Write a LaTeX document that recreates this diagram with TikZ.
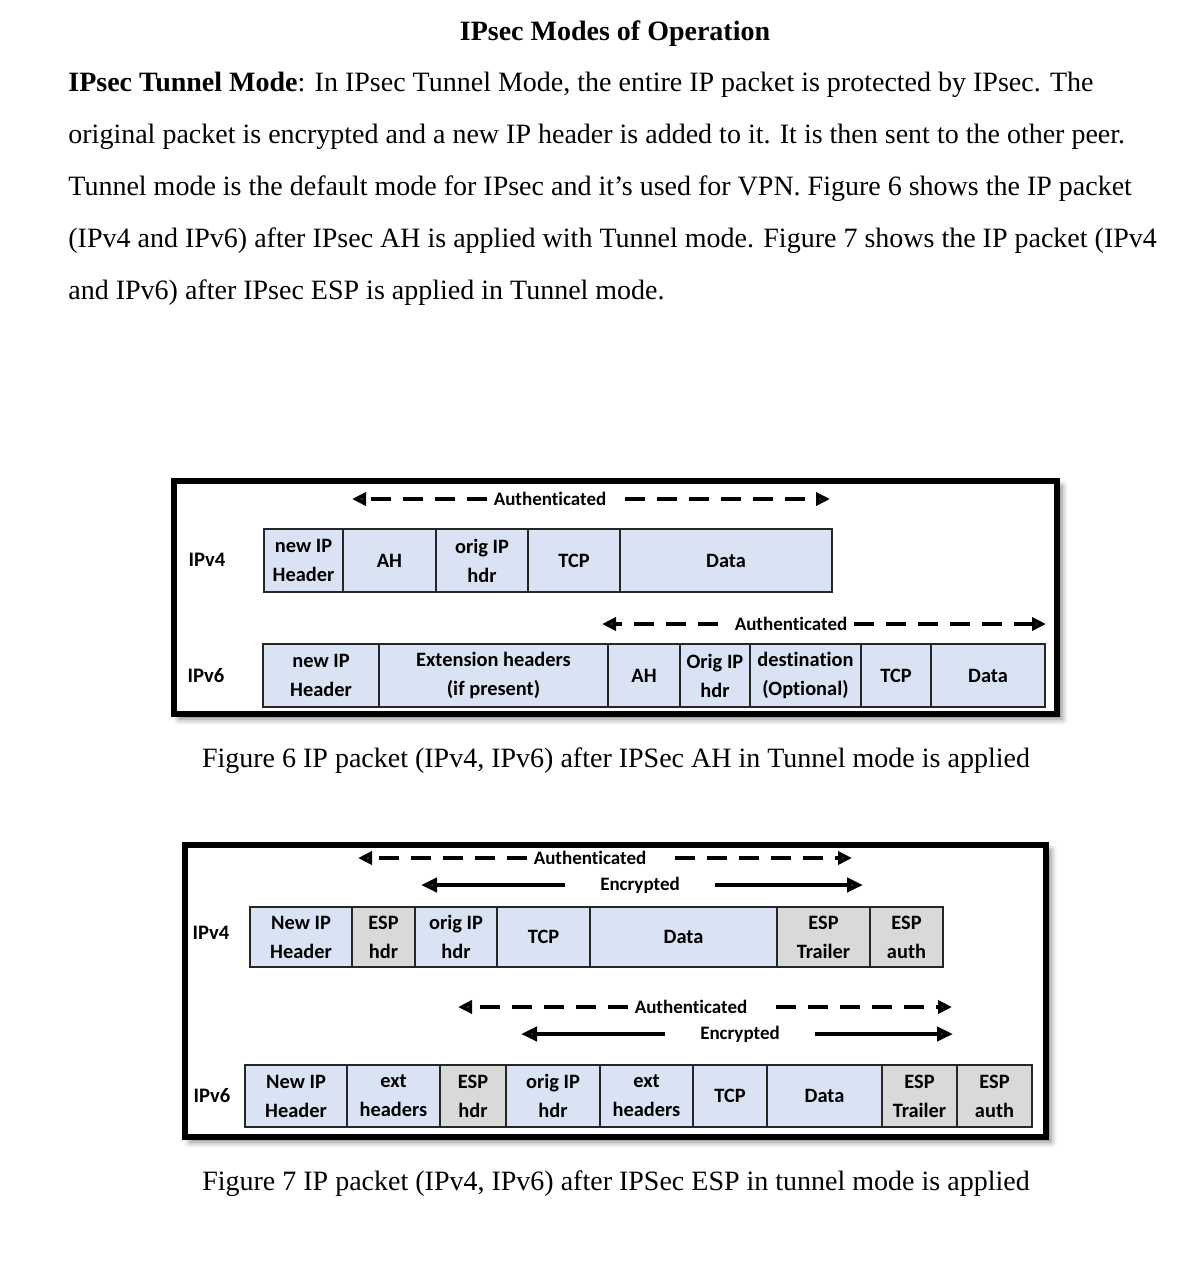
\documentclass[tikz,border=0pt]{standalone}
\usepackage{fontspec}
\setmainfont{Liberation Serif}
\newfontfamily\cellfont[Ligatures=NoCommon]{Carlito}
\usepackage{xcolor}
\usetikzlibrary{arrows.meta,positioning,shadows.blur}

\definecolor{pktblue}{RGB}{218,227,243}
\definecolor{espgray}{RGB}{217,217,217}

\begin{document}
\begin{tikzpicture}[
    x=0.5pt, y=-0.5pt,
    node distance=0pt,
    body/.style={inner sep=0pt, anchor=base west, font=\fontsize{14}{16}\selectfont},
    caption/.style={inner sep=0pt, anchor=base, font=\fontsize{14}{16}\selectfont},
    frame/.style={draw=black, line width=3pt, fill=white,
        blur shadow={shadow xshift=2.5pt, shadow yshift=-2.5pt, shadow blur radius=3pt, shadow opacity=50}},
    cell/.style={
        draw=black!85,
        line width=1.4pt,
        fill=pktblue,
        outer sep=0pt,
        inner sep=1pt,
        align=center,
        minimum height=31.5pt,
        font=\cellfont\bfseries\fontsize{10.2}{14.5}\selectfont
    },
    espcell/.style={cell, fill=espgray},
    rowtag/.style={font=\cellfont\bfseries\fontsize{10.3}{12}\selectfont},
    tag/.style={font=\cellfont\bfseries\fontsize{9.5}{12}\selectfont},
    authline/.style={-{Triangle[length=7pt, width=6.5pt]}, line width=2pt, dash pattern=on 10pt off 6pt},
    encline/.style={-{Triangle[length=8pt, width=7pt]}, line width=2pt, shorten <=14pt}
]
\useasboundingbox (0,0) rectangle (1198,1266);

% text above the figures
\node[inner sep=0pt, anchor=base, font=\bfseries\fontsize{14}{16}\selectfont] (title) at (615,40) {IPsec Modes of Operation};
\node[body] (para1) at (68,91) {\textbf{IPsec Tunnel Mode}: In IPsec Tunnel Mode, the entire IP packet is protected by IPsec. The};
\node[body] (para2) at (68,143) {original packet is encrypted and a new IP header is added to it. It is then sent to the other peer.};
\node[body] (para3) at (68,195) {Tunnel mode is the default mode for IPsec and it’s used for VPN. Figure 6 shows the IP packet};
\node[body] (para4) at (68,247) {(IPv4 and IPv6) after IPsec AH is applied with Tunnel mode. Figure 7 shows the IP packet (IPv4};
\node[body] (para5) at (68,299) {and IPv6) after IPsec ESP is applied in Tunnel mode.};

% Figure 6: AH in tunnel mode
\draw[frame] (174,481) rectangle (1057,714);

\node[rowtag] (v4a) at (207,560) {IPv4};
\node[cell, anchor=north west, minimum width=39.5pt] (ahnewip) at (264,529) {new IP\\Header};
\node[cell, right=of ahnewip, minimum width=46.5pt] (ahah) {AH};
\node[cell, right=of ahah, minimum width=46pt] (ahorig) {orig IP\\hdr};
\node[cell, right=of ahorig, minimum width=46pt] (ahtcp) {TCP};
\node[cell, right=of ahtcp, minimum width=106pt] (ahdata) {Data};

\node[tag] (auth6a) at (550,499) {Authenticated};
\coordinate (auth6al) at (352,499);
\coordinate (auth6ar) at (830,499);
\draw[authline] (auth6a.west) -- (auth6al);
\draw[authline] ([xshift=6pt]auth6a.east) -- (auth6ar);

\node[rowtag] (v6a) at (206,676) {IPv6};
\node[cell, anchor=north west, minimum width=58pt] (ah6newip) at (263,644) {new IP\\Header};
\node[cell, right=of ah6newip, minimum width=114.5pt] (ah6ext) {Extension headers\\(if present)};
\node[cell, right=of ah6ext, minimum width=36pt] (ah6ah) {AH};
\node[cell, right=of ah6ah, minimum width=35pt] (ah6orig) {Orig IP\\hdr};
\node[cell, right=of ah6orig, minimum width=55.5pt] (ah6dest) {destination\\(Optional)};
\node[cell, right=of ah6dest, minimum width=35pt] (ah6tcp) {TCP};
\node[cell, right=of ah6tcp, minimum width=57pt] (ah6data) {Data};

\node[tag] (auth6b) at (791,624) {Authenticated};
\coordinate (auth6bl) at (602,624);
\coordinate (auth6br) at (1046,624);
\draw[authline, shorten <=5pt] (auth6b.west) -- (auth6bl);
\draw[authline] (auth6b.east) -- (auth6br);

\node[caption] (cap6) at (616,767) {Figure 6 IP packet (IPv4, IPv6) after IPSec AH in Tunnel mode is applied};

% Figure 7: ESP in tunnel mode
\draw[frame] (185,845) rectangle (1046,1137);

\node[rowtag] (v4b) at (211,933) {IPv4};
\node[cell, anchor=north west, minimum height=30pt, minimum width=51pt] (espnewip) at (250,907) {New IP\\Header};
\node[espcell, right=of espnewip, minimum height=30pt, minimum width=31.5pt] (esphdr) {ESP\\hdr};
\node[cell, right=of esphdr, minimum height=30pt, minimum width=41pt] (esporig) {orig IP\\hdr};
\node[cell, right=of esporig, minimum height=30pt, minimum width=46.5pt] (esptcp) {TCP};
\node[cell, right=of esptcp, minimum height=30pt, minimum width=93.5pt] (espdata) {Data};
\node[espcell, right=of espdata, minimum height=30pt, minimum width=46.5pt] (esptrail) {ESP\\Trailer};
\node[espcell, right=of esptrail, minimum height=30pt, minimum width=36.5pt] (espauth) {ESP\\auth};

\node[tag] (auth7a) at (590,858) {Authenticated};
\coordinate (auth7al) at (358,858);
\coordinate (auth7ar) at (852,858);
\draw[authline] (auth7a.west) -- (auth7al);
\draw[authline, shorten <=11pt] (auth7a.east) -- (auth7ar);
\node[tag] (enc7a) at (640,885) {Encrypted};
\coordinate (enc7al) at (421,885);
\coordinate (enc7ar) at (863,885);
\draw[encline] (enc7a.west) -- (enc7al);
\draw[encline] (enc7a.east) -- (enc7ar);

\node[rowtag] (v6b) at (212,1096) {IPv6};
\node[cell, anchor=north west, minimum height=31pt, minimum width=51pt] (esp6newip) at (245,1065) {New IP\\Header};
\node[cell, right=of esp6newip, minimum height=31pt, minimum width=46.5pt] (esp6ext) {ext\\headers};
\node[espcell, right=of esp6ext, minimum height=31pt, minimum width=33pt] (esp6hdr) {ESP\\hdr};
\node[cell, right=of esp6hdr, minimum height=31pt, minimum width=47pt] (esp6orig) {orig IP\\hdr};
\node[cell, right=of esp6orig, minimum height=31pt, minimum width=46.5pt] (esp6ext2) {ext\\headers};
\node[cell, right=of esp6ext2, minimum height=31pt, minimum width=37pt] (esp6tcp) {TCP};
\node[cell, right=of esp6tcp, minimum height=31pt, minimum width=57.5pt] (esp6data) {Data};
\node[espcell, right=of esp6data, minimum height=31pt, minimum width=37.5pt] (esp6trail) {ESP\\Trailer};
\node[espcell, right=of esp6trail, minimum height=31pt, minimum width=37.5pt] (esp6auth) {ESP\\auth};

\node[tag] (auth7b) at (691,1007) {Authenticated};
\coordinate (auth7bl) at (458,1007);
\coordinate (auth7br) at (952,1007);
\draw[authline] (auth7b.west) -- (auth7bl);
\draw[authline, shorten <=11pt] (auth7b.east) -- (auth7br);
\node[tag] (enc7b) at (740,1034) {Encrypted};
\coordinate (enc7bl) at (521,1034);
\coordinate (enc7br) at (953,1034);
\draw[encline] (enc7b.west) -- (enc7bl);
\draw[encline] (enc7b.east) -- (enc7br);

\node[caption] (cap7) at (616,1190) {Figure 7 IP packet (IPv4, IPv6) after IPSec ESP in tunnel mode is applied};
\end{tikzpicture}
\end{document}
